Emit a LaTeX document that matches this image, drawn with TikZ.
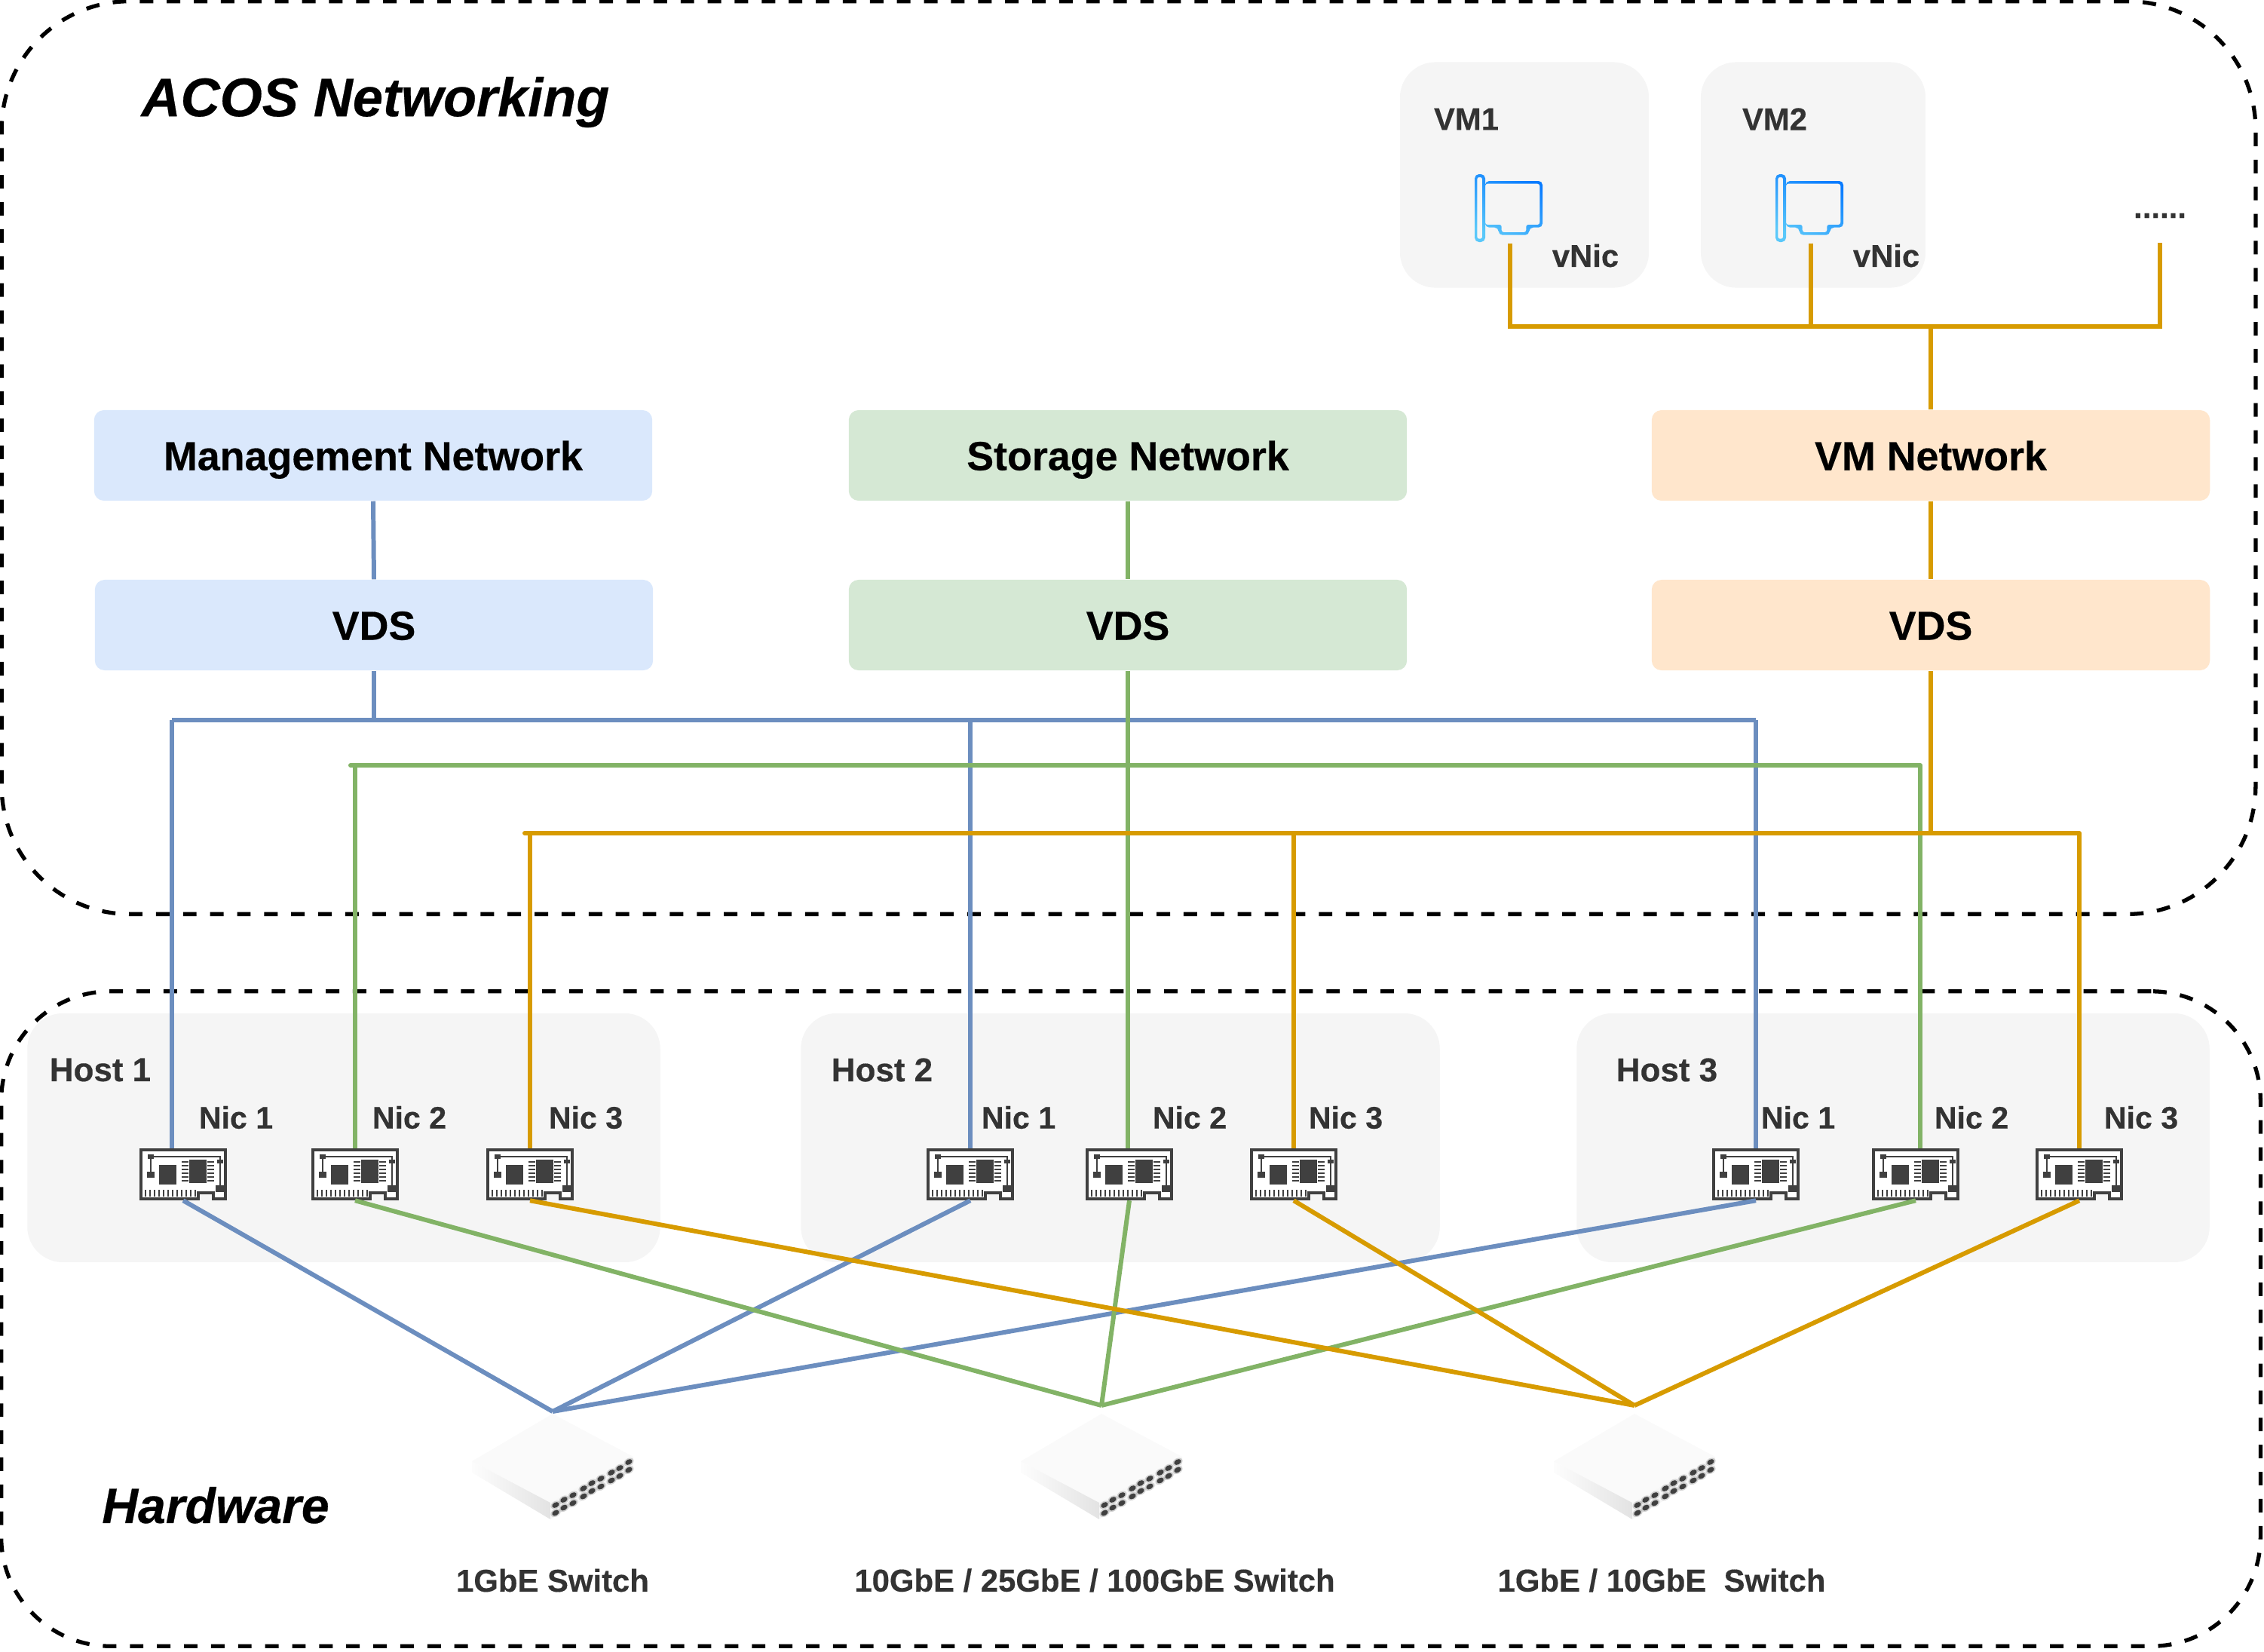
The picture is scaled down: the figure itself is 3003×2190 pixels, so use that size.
\documentclass[tikz,border=0pt]{standalone}
\usepackage{fontspec}
\setmainfont[BoldFeatures={FakeBold=0.35}, BoldItalicFeatures={FakeBold=0.35}]{Liberation Sans}

\definecolor{wireblue}{HTML}{6C8EBF}
\definecolor{wiregreen}{HTML}{82B366}
\definecolor{wireorange}{HTML}{D79B00}
\definecolor{boxblue}{HTML}{DAE8FC}
\definecolor{boxgreen}{HTML}{D5E8D4}
\definecolor{boxorange}{HTML}{FFE6CC}
\definecolor{inkgray}{HTML}{333333}
\definecolor{chipgray}{HTML}{404040}
\definecolor{cardtop}{HTML}{0A7CFF}
\definecolor{cardbottom}{HTML}{5AC8FA}

\tikzset{
    zone/.style={draw=black, line width=1.5pt, dash pattern=on 5.1pt off 5.1pt, rounded corners=#1, inner sep=0pt},
    panel/.style={fill=black!4, rounded corners=.47cm, inner sep=0pt},
    netbox/.style={fill=#1, rounded corners=.13cm, minimum width=7.4cm, minimum height=1.2cm, inner sep=0pt,
        text height=.39cm, text depth=0pt, font=\fontsize{15.3}{18}\selectfont\bfseries},
    tag/.style={text=inkgray, inner sep=0pt, font=\fontsize{11.9}{14}\selectfont\bfseries},
    nictag/.style={tag, font=\fontsize{11.7}{14}\selectfont\bfseries},
    hosttag/.style={tag, font=\fontsize{12.5}{14}\selectfont\bfseries},
    title/.style={inner sep=0pt, text depth=0pt, font=\fontsize{#1}{24}\selectfont\bfseries\itshape},
    nicnode/.style={minimum width=1.13cm, minimum height=.67cm, inner sep=0pt},
    wire/.style={draw=#1, line width=1.7pt},
    nicpic/.pic={
        \filldraw [draw=chipgray, fill=white, line width=.9pt] (-56, -33) -- (56, -33) -- (56, 32) -- (40, 32) -- (40, 24) -- (20, 24) -- (20, 32) -- (-56, 32) -- cycle;
        \draw [chipgray, line width=.35pt] (-43, -24) -- (49, -24) -- (49, 15);
        \draw [chipgray, line width=.35pt] (-43, -24) -- (-43, -4);
        \fill [chipgray] (-47, -27) rectangle (-39, -21);
        \fill [chipgray] (45, -20) rectangle (53, -15);
        \fill [chipgray] (43, 14) rectangle (56, 23);
        \fill [chipgray] (-48, -4) rectangle (-38, 4);
        \fill [chipgray] (-32, -13) rectangle (-9, 13);
        \fill [chipgray] (8, -20) rectangle (31, 11);
        \foreach \pinrow in {-17, -12, -7, -2, 3, 8} {
            \fill [chipgray] (-2, \pinrow - 1) rectangle (7, \pinrow + 1);
            \fill [chipgray] (32, \pinrow - 1) rectangle (41, \pinrow + 1);
        }
        \foreach \tooth in {-50, -44, ..., 16} {
            \fill [chipgray] (\tooth - 1.3, 20) rectangle (\tooth + 1.3, 29);
        }
    },
    vnicpic/.pic={
        \shade [even odd rule, top color=cardtop, bottom color=cardbottom, shading angle=-30]
            [rounded corners=1.6pt] (-47, -46) rectangle (-33, 44)
            [rounded corners=.7pt] (-43.7, -42) rectangle (-37, 39.7)
            [rounded corners=1.5pt] (-33, -37) -- (43, -37) -- (43, 24.7) -- (25.3, 24.7) -- (25.3, 34.7) -- (-15.3, 34.7) -- (-15.3, 24.7) -- (-33, 24.7) -- cycle
            [rounded corners=.8pt] (-33, -33.3) -- (39.3, -33.3) -- (39.3, 21) -- (21.3, 21) -- (21.3, 31) -- (-11.3, 31) -- (-11.3, 21) -- (-33, 21) -- cycle;
    },
    switchpic/.pic={
        \fill [black!2] (0, 0) -- (107, 57) -- (-3, 118) -- (-107, 63) -- cycle;
        \shade [left color=black!1, right color=black!11] (-107, 63) -- (-3, 118) -- (-3, 140) -- (-107, 78) -- cycle;
        \fill [black!3] (-3, 118) -- (107, 57) -- (107, 75) -- (-3, 140) -- cycle;
        \foreach \portx/\porty in {4/121, 15/114, 27/108, 41/99, 52/92, 64/86, 78/78, 89/72, 101/64} {
            \fill [black!45, opacity=.35, rotate around={30:(\portx, \porty)}] (\portx, \porty) ellipse (7 and 5);
            \fill [black!45, opacity=.35, rotate around={30:(\portx, \porty + 10.5)}] (\portx, \porty + 10.5) ellipse (7 and 5);
            \fill [chipgray, rotate around={30:(\portx, \porty)}] (\portx, \porty) ellipse (5 and 3.4);
            \fill [chipgray, rotate around={30:(\portx, \porty + 10.5)}] (\portx, \porty + 10.5) ellipse (5 and 3.4);
        }
    },
}

\begin{document}
\begin{tikzpicture}[x=.01cm, y=-.01cm]
                \useasboundingbox (0, 0) rectangle (3003, 2190);
                % Dashed zones
                \node [zone=1.7cm, minimum width=29.88cm, minimum height=12.1cm] (acoszone) at (1497, 607) {};
                \node [zone=1.45cm, minimum width=29.95cm, minimum height=8.68cm] (hardzone) at (1500, 1749) {};
                \node [title=20.5] (acostitle) at (498, 128) {ACOS Networking};
                \node [title=18.8] (hardtitle) at (286, 1996) {Hardware};
                % Gray panels
                \node [panel, minimum width=3.3cm, minimum height=2.99cm] (vmone) at (2022, 232) {};
                \node [panel, minimum width=2.98cm, minimum height=2.99cm] (vmtwo) at (2405, 232) {};
                \node [panel, minimum width=8.39cm, minimum height=3.3cm] (hostone) at (456, 1509) {};
                \node [panel, minimum width=8.47cm, minimum height=3.3cm] (hosttwo) at (1486, 1509) {};
                \node [panel, minimum width=8.39cm, minimum height=3.3cm] (hostthree) at (2511, 1509) {};
                \node [tag] (vmonetag) at (1945, 158) {VM1};
                \node [tag] (vmtwotag) at (2354, 158) {VM2};
                \node [tag] (vnicone) at (2103, 339) {vNic};
                \node [tag] (vnictwo) at (2502, 339) {vNic};
                \node [tag] (vmdots) at (2865, 286) {......};
                \node [hosttag] (hostonetag) at (133, 1419) {Host 1};
                \node [hosttag] (hosttwotag) at (1170, 1419) {Host 2};
                \node [hosttag] (hostthreetag) at (2211, 1419) {Host 3};
                % Networks and switches
                \node [netbox=boxblue] (mgmtnet) at (495, 604) {Management Network};
                \node [netbox=boxblue] (mgmtvds) at (496, 829) {VDS};
                \node [netbox=boxgreen] (storenet) at (1496, 604) {Storage Network};
                \node [netbox=boxgreen] (storevds) at (1496, 829) {VDS};
                \node [netbox=boxorange] (vmnet) at (2561, 604) {VM Network};
                \node [netbox=boxorange] (vmvds) at (2561, 829) {VDS};
                % Cards
                \node [nicnode] (hostonenicone) at (243, 1558) {};
                \node [nicnode] (hostonenictwo) at (471, 1558) {};
                \node [nicnode] (hostonenicthree) at (703, 1558) {};
                \node [nicnode] (hosttwonicone) at (1287, 1558) {};
                \node [nicnode] (hosttwonictwo) at (1498, 1558) {};
                \node [nicnode] (hosttwonicthree) at (1716, 1558) {};
                \node [nicnode] (hostthreenicone) at (2329, 1558) {};
                \node [nicnode] (hostthreenictwo) at (2541, 1558) {};
                \node [nicnode] (hostthreenicthree) at (2758, 1558) {};
                \node [minimum size=.9cm, inner sep=0pt] (vcardone) at (2003, 277) {};
                \node [minimum size=.9cm, inner sep=0pt] (vcardtwo) at (2402, 277) {};
                \coordinate (vcardthree) at (2865, 322);
                \coordinate (swone) at (733, 1872);
                \coordinate (swtwo) at (1461, 1864);
                \coordinate (swthree) at (2168, 1864);
                % Wire corners
                \coordinate (bluebus) at (496, 955);
                \coordinate (blueleft) at (228, 955);
                \coordinate (greenleft) at (465, 1015);
                \coordinate (greenright) at (2547, 1015);
                \coordinate (orangeleft) at (696, 1105);
                \coordinate (orangeright) at (2758, 1105);
                \coordinate (vmbus) at (2561, 433);
                % Blue wires
                \draw [wire=wireblue] (mgmtnet.south) -- (mgmtvds.north);
                \draw [wire=wireblue] (mgmtvds) -- (bluebus);
                \draw [wire=wireblue] (blueleft) -- (hostthreenicone.north |- blueleft);
                \draw [wire=wireblue] (blueleft) -- (hostonenicone.north -| blueleft);
                \draw [wire=wireblue] (hosttwonicone.north |- blueleft) -- (hosttwonicone.north);
                \draw [wire=wireblue] (hostthreenicone.north |- blueleft) -- (hostthreenicone.north);
                % Green wires
                \draw [wire=wiregreen] (storenet) -- (storevds);
                \draw [wire=wiregreen] (storevds) -- (hosttwonictwo.north -| storevds);
                \draw [wire=wiregreen, line cap=round] (greenleft) -- (greenright);
                \draw [wire=wiregreen] (hostonenictwo.north |- greenleft) -- (hostonenictwo.north);
                \draw [wire=wiregreen] (greenright) -- (hostthreenictwo.north -| greenright);
                % Orange wires
                \draw [wire=wireorange] (vmnet) -- (vmvds);
                \draw [wire=wireorange] (vmvds) -- (vmvds |- orangeleft);
                \draw [wire=wireorange, line cap=round] (orangeleft) -- (orangeright);
                \draw [wire=wireorange] (hostonenicthree.north |- orangeleft) -- (hostonenicthree.north);
                \draw [wire=wireorange] (hosttwonicthree.north |- orangeleft) -- (hosttwonicthree.north);
                \draw [wire=wireorange] (orangeright) -- (hostthreenicthree.north);
                % VM wires
                \draw [wire=wireorange] (vmnet) -- (vmbus);
                \draw [wire=wireorange] (vcardone.south) -- (vcardone.south |- vmbus) -- (vcardthree |- vmbus) -- (vcardthree);
                \draw [wire=wireorange] (vcardtwo.south) -- (vcardtwo.south |- vmbus);
                % Icons
                \pic at (vcardone) {vnicpic};
                \pic at (vcardtwo) {vnicpic};
                \pic at (hostonenicone) {nicpic};
                \pic at (hostonenictwo) {nicpic};
                \pic at (hostonenicthree) {nicpic};
                \pic at (hosttwonicone) {nicpic};
                \pic at (hosttwonictwo) {nicpic};
                \pic at (hosttwonicthree) {nicpic};
                \pic at (hostthreenicone) {nicpic};
                \pic at (hostthreenictwo) {nicpic};
                \pic at (hostthreenicthree) {nicpic};
                \pic at (733, 1875) {switchpic};
                \pic at (1461, 1875) {switchpic};
                \pic at (2168, 1875) {switchpic};
                % Wires down to the switches
                \draw [wire=wireblue] (hostonenicone.south) -- (swone);
                \draw [wire=wireblue] (hosttwonicone.south) -- (swone);
                \draw [wire=wireblue] (hostthreenicone.south) -- (swone);
                \draw [wire=wiregreen] (hostonenictwo.south) -- (swtwo);
                \draw [wire=wiregreen] (hosttwonictwo.south) -- (swtwo);
                \draw [wire=wiregreen] (hostthreenictwo.south) -- (swtwo);
                \draw [wire=wireorange] (hostonenicthree.south) -- (swthree);
                \draw [wire=wireorange] (hosttwonicthree.south) -- (swthree);
                \draw [wire=wireorange] (hostthreenicthree.south) -- (swthree);
                % Labels
                \node [nictag] (nicatag) at (313, 1482) {Nic 1};
                \node [nictag] (nicbtag) at (543, 1482) {Nic 2};
                \node [nictag] (nicctag) at (777, 1482) {Nic 3};
                \node [nictag] (nicdtag) at (1351, 1482) {Nic 1};
                \node [nictag] (nicetag) at (1578, 1482) {Nic 2};
                \node [nictag] (nicftag) at (1785, 1482) {Nic 3};
                \node [nictag] (nicgtag) at (2385, 1482) {Nic 1};
                \node [nictag] (nichtag) at (2615, 1482) {Nic 2};
                \node [nictag] (nicitag) at (2840, 1482) {Nic 3};
                \node [tag] (swonetag) at (733, 2096) {1GbE Switch};
                \node [tag] (swtwotag) at (1452, 2096) {10GbE / 25GbE / 100GbE Switch};
                \node [tag] (swthreetag) at (2204, 2096) {1GbE / 10GbE\ \ Switch};
            \end{tikzpicture}
\end{document}
